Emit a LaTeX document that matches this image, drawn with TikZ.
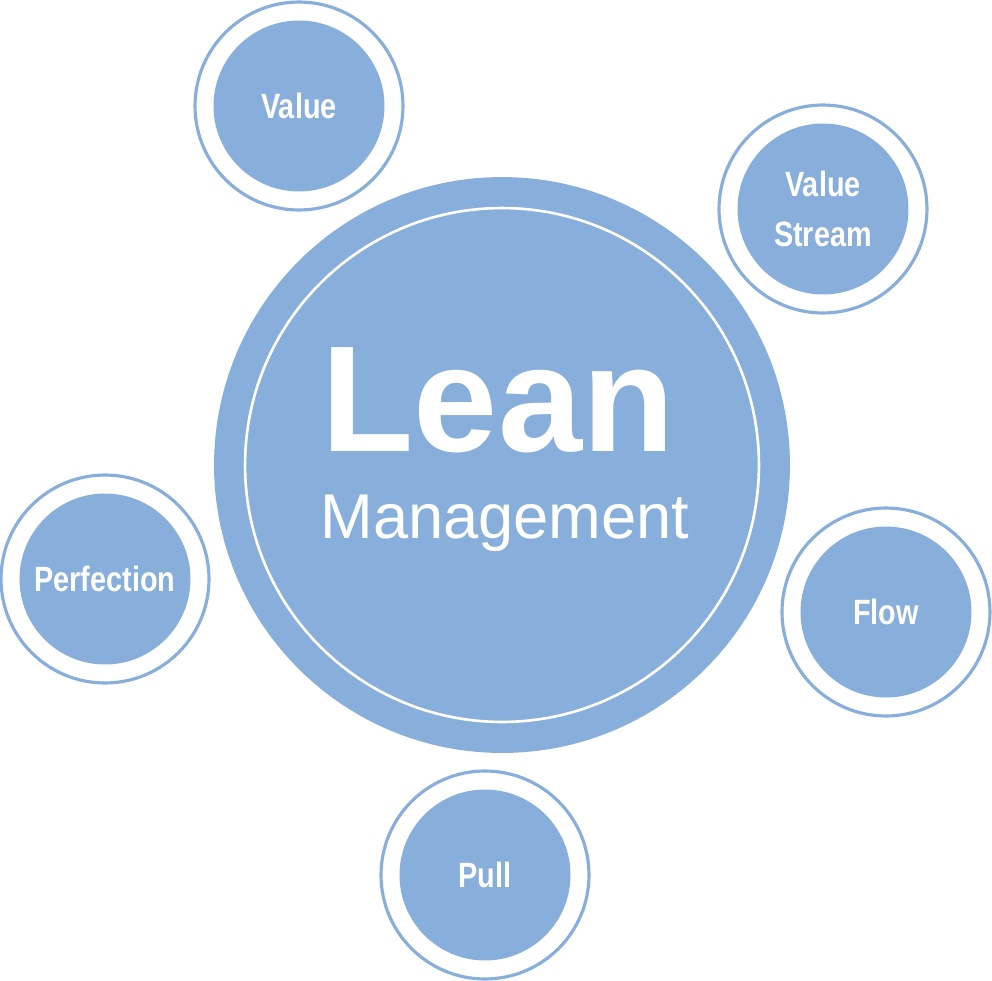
\documentclass[tikz,border=0pt]{standalone}
\usepackage{fontspec}
\setmainfont{Liberation Sans}
\definecolor{leanblue}{HTML}{88AEDC}
\newcommand{\narrowtxt}[1]{\scalebox{0.82}[1]{#1}}
\tikzset{
  ring/.style={circle, draw=leanblue, line width=1.8pt, fill=white, minimum size=4.16cm, inner sep=0pt},
  core/.style={circle, fill=leanblue, minimum size=3.42cm, inner sep=0pt, text=white,
    font=\fontsize{20}{24}\selectfont\bfseries, align=center}
}
\begin{document}
\begin{tikzpicture}[x=0.02cm,y=-0.02cm]
\useasboundingbox (0,0) rectangle (992,981);

% central circle
\node[circle, fill=leanblue, minimum size=11.52cm, inner sep=0pt] (lean) at (502,465) {};
\node[circle, draw=white, line width=1.5pt, minimum size=10.28cm, inner sep=0pt] (leanring) at (502,465) {};
\node[text=white, font=\fontsize{86}{90}\selectfont\bfseries] (leantitle) at (498,400) {Lean};
\node[text=white, font=\fontsize{36}{40}\selectfont] (leansub) at (505,523) {Management};

% outer principles
\foreach \name/\pos/\txt in {value/{(299,106)}/{\narrowtxt{Value}}, stream/{(823,209)}/{\narrowtxt{Value}\\[4pt]\narrowtxt{Stream}},
  perfection/{(105,579)}/{\narrowtxt{Perfection}}, flow/{(886,612)}/{\narrowtxt{Flow}}, pull/{(485,875)}/{\narrowtxt{Pull}}}{
  \node[ring] (\name ring) at \pos {};
  \node[core] (\name) at \pos {\txt};
}
\end{tikzpicture}
\end{document}
